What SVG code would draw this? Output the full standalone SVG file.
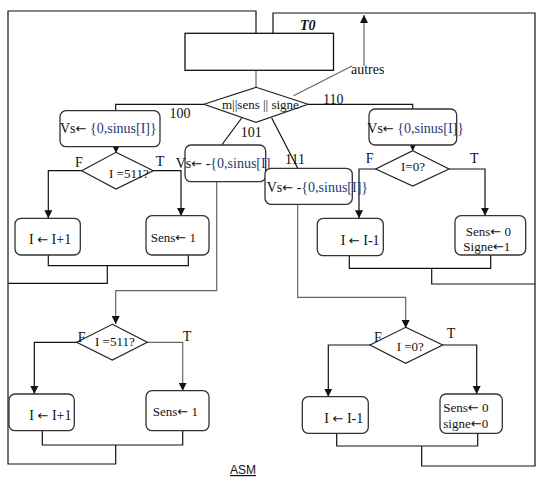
<svg xmlns="http://www.w3.org/2000/svg" width="545" height="485" viewBox="0 0 545 485">
<style>
text{font-family:"Liberation Serif","Times New Roman",serif;font-size:14px;fill:#111}
.s{font-size:13px}
.b{fill:#1f3b73}
.a{font-family:"DejaVu Sans",sans-serif;font-size:13px}
.box{fill:#fff;stroke:#333;stroke-width:1.3}
.dia{fill:#fff;stroke:#222;stroke-width:1.2}
.ln{fill:none;stroke:#111;stroke-width:1.2}
.gr{fill:none;stroke:#666;stroke-width:1.2}
.ar{marker-end:url(#ah)}
</style>
<defs>
<marker id="ah" markerUnits="userSpaceOnUse" markerWidth="9" markerHeight="9" viewBox="0 0 9 9" refX="8" refY="4.5" orient="auto">
<path d="M0,0.5 L8,4.5 L0,8.5 Z" fill="#111"/>
</marker>
</defs>
<rect width="545" height="485" fill="#fff"/>
<g id="connectors">
<path class="ln" d="M256,33.3 V11 H8 V464 H115.7 V445"/>
<path class="ln" d="M42.3,430.7 V445 H182.7 V430.7"/>
<path class="ln" d="M48.3,255 V265.7 H188.3 V255 M107.3,265.7 V283.3 H8"/>
<path class="ln" d="M273,33.3 V13 H535 V466 H421.7 V446"/>
<path class="ln" d="M336.7,433.3 V446 H477.7 V433.3"/>
<path class="ln" d="M349.3,255.7 V268.3 H490.7 V255 M431.7,268.3 V284 H535"/>
<path class="gr" d="M256,70.3 V87.3"/>
<path class="gr" d="M293.5,95.7 L352,66"/>
<path class="gr ar" d="M364,66 V15"/>
<path class="ln" d="M204,104.3 H115.7 V110.7 M308,104.3 H412.7 V109"/>
<path class="ln" d="M241.7,118 L221.7,145 M271.7,118 L297.7,168.3"/>
<path class="gr ar" d="M216.7,181.7 V290.7 H115.7 V324"/>
<path class="gr ar" d="M297.7,204.3 V297.3 H405.7 V328"/>
<path class="ln ar" d="M116,146.7 V153"/>
<path class="ln ar" d="M81.7,170.7 H48.3 V218.3"/>
<path class="ln ar" d="M153.3,170.7 H181 V216"/>
<path class="ln ar" d="M412.7,145 V151"/>
<path class="ln ar" d="M375.7,169 H359 V218.3"/>
<path class="ln ar" d="M449,169 H485 V215.7"/>
<path class="ln ar" d="M76.7,342.3 H34.3 V394"/>
<path class="gr ar" d="M147.3,342.3 H182.7 V390.7"/>
<path class="ln ar" d="M370,345 H328.3 V396.7"/>
<path class="ln ar" d="M442.7,345 H476.7 V394"/>
</g>
<g id="T0">
<rect x="185" y="33.3" width="148.5" height="37" fill="#fff" stroke="#111" stroke-width="1.3"/>
<text x="300" y="30" font-style="italic" font-weight="bold">T0</text>
</g>
<g id="autres"><text x="351" y="74">autres</text></g>
<g id="d0">
<polygon class="dia" points="256,87.3 308,104.3 256,122.3 204,104.3"/>
<text x="222" y="109" class="s">m||sens || signe</text>
</g>
<g id="labels">
<text x="169.5" y="118">100</text>
<text x="323" y="104">110</text>
<text x="240.7" y="136.7">101</text>
<text x="285" y="164.3">111</text>
</g>
<g id="b100">
<rect class="box" x="60" y="110.7" width="100" height="36" rx="6"/>
<text x="60" y="133">Vs<tspan class="a">←</tspan> <tspan class="b">{0,sinus[I]}</tspan></text>
</g>
<g id="d1">
<polygon class="dia" points="116,152.3 153.3,170.7 116,189 81.7,170.7"/>
<text x="109" y="177.7" class="s">I =511?</text>
<text x="75" y="166.7">F</text>
<text x="155.7" y="165.7">T</text>
</g>
<g id="b1a">
<rect class="box" x="15" y="218.3" width="65.3" height="36.7" rx="6"/>
<text x="29" y="244">I <tspan class="a">←</tspan> I+1</text>
</g>
<g id="b1b">
<rect class="box" x="146" y="215.7" width="63" height="39.3" rx="6"/>
<text x="150.7" y="241.7" class="s">Sens<tspan class="a">←</tspan> 1</text>
</g>
<g id="b101">
<rect class="box" x="185" y="145" width="80.7" height="36.7" rx="6"/>
<text x="175.7" y="168">Vs<tspan class="a">←</tspan> -<tspan class="b">{0,sinus[I]</tspan></text>
</g>
<g id="b111">
<rect class="box" x="265" y="168.3" width="87.3" height="36" rx="6"/>
<text x="266.7" y="191.7">Vs<tspan class="a">←</tspan> -<tspan class="b">{0,sinus[I]}</tspan></text>
</g>
<g id="b110">
<rect class="box" x="369" y="109" width="87.7" height="36" rx="6"/>
<text x="367.3" y="132.7">Vs<tspan class="a">←</tspan> <tspan class="b">{0,sinus[I]}</tspan></text>
</g>
<g id="d3">
<polygon class="dia" points="412.7,150.7 449,169 412.7,186 375.7,169"/>
<text x="401" y="171" class="s">I=0?</text>
<text x="365.7" y="162.7">F</text>
<text x="470" y="162.7">T</text>
</g>
<g id="b3a">
<rect class="box" x="317.3" y="218.3" width="66" height="37.4" rx="6"/>
<text x="340.7" y="245">I <tspan class="a">←</tspan> I-1</text>
</g>
<g id="b3b">
<rect class="box" x="455" y="215.7" width="70.7" height="39.3" rx="6"/>
<text x="465.7" y="236" class="s">Sens<tspan class="a">←</tspan> 0</text>
<text x="463.3" y="250.7" class="s">Signe<tspan class="a">←</tspan>1</text>
</g>
<g id="d2">
<polygon class="dia" points="112.3,324.3 147.3,342.3 112.3,360 76.7,342.3"/>
<text x="95" y="346" class="s">I =511?</text>
<text x="77.7" y="341.7">F</text>
<text x="182.7" y="341">T</text>
</g>
<g id="b2a">
<rect class="box" x="9" y="394" width="65.3" height="36.7" rx="6"/>
<text x="29.3" y="420">I <tspan class="a">←</tspan> I+1</text>
</g>
<g id="b2b">
<rect class="box" x="146" y="390.7" width="63" height="40" rx="6"/>
<text x="152.7" y="416" class="s">Sens<tspan class="a">←</tspan> 1</text>
</g>
<g id="d4">
<polygon class="dia" points="405.7,327.3 442.7,345 405.7,363.3 370,345"/>
<text x="396.7" y="351" class="s">I =0?</text>
<text x="374" y="341.7">F</text>
<text x="446.7" y="338.3">T</text>
</g>
<g id="b4a">
<rect class="box" x="302.3" y="396.7" width="66" height="36.6" rx="6"/>
<text x="324.3" y="422.7">I <tspan class="a">←</tspan> I-1</text>
</g>
<g id="b4b">
<rect class="box" x="440" y="394" width="62.3" height="39.3" rx="6"/>
<text x="443.3" y="411.7" class="s">Sens<tspan class="a">←</tspan> 0</text>
<text x="443.3" y="428.3" class="s">signe<tspan class="a">←</tspan>0</text>
</g>
<g id="asm">
<text x="230" y="474" style="font-family:'Liberation Sans',Arial,sans-serif;font-size:12px;text-decoration:underline">ASM</text>
</g>
</svg>
